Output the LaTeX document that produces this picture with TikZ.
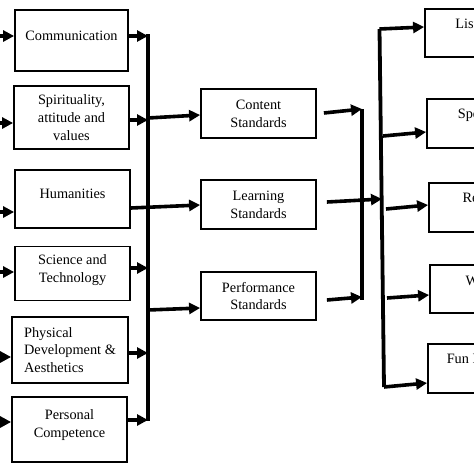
\documentclass[tikz,border=0pt]{standalone}
\usepackage{fontspec}
\setmainfont{Liberation Serif}
\usetikzlibrary{arrows.meta,calc}
\begin{document}
\begin{tikzpicture}[x=1pt,y=-1pt,
  box/.style={draw, line width=1.8pt, inner sep=2pt, align=center,
    font=\fontsize{14.3}{17.8}\selectfont},
  arr/.style={line width=3.6pt, -{Triangle[length=11pt,width=11pt]}},
  barline/.style={line width=3.8pt}]
\useasboundingbox (0,0) rectangle (474,474);
\fill[white] (0,0) rectangle (474,474);
\clip (0,0) rectangle (474,474);
% left column
\node[box, minimum width=113pt, minimum height=61pt, text depth=9.5pt] (com) at (71.5,40.5) {Communication};
\node[box, minimum width=115pt, minimum height=63pt] (spir) at (71.5,117.5) {Spirituality,\\attitude and\\values};
\node[box, minimum width=115pt, minimum height=58pt, text depth=10.5pt] (hum) at (72.5,199) {Humanities};
\node[box, minimum width=115pt, minimum height=54pt, text depth=10pt] (sci) at (72.5,273.5) {Science and\\Technology};
\node[box, align=left, minimum width=116pt, minimum height=66pt] (phys) at (70,350) {Physical\\Development \&\\Aesthetics};
\node[box, minimum width=115pt, minimum height=65pt, text depth=12pt] (pers) at (69.5,429.5) {Personal\\Competence};
% middle column
\node[box, minimum width=115pt, minimum height=49pt] (cont) at (258.5,113.5) {Content\\Standards};
\node[box, minimum width=115pt, minimum height=49pt] (lear) at (258.5,204.5) {Learning\\Standards};
\node[box, minimum width=115pt, minimum height=48pt] (perf) at (258.5,296) {Performance\\Standards};
% right column
\node[box, minimum width=115pt, minimum height=48pt, text depth=19pt] (lis) at (482.5,33) {Listening};
\node[box, minimum width=115pt, minimum height=49pt, text depth=19pt] (spk) at (484.5,123.5) {Speaking};
\node[box, minimum width=115pt, minimum height=49pt, text depth=19pt] (rea) at (486.5,207.5) {Reading};
\node[box, minimum width=115pt, minimum height=48pt, text depth=17pt] (wri) at (487.5,289) {Writing};
\node[box, minimum width=115pt, minimum height=49pt, text depth=19pt] (fun) at (485.5,368.5) {Fun Learning};
% bars
\coordinate (b1top) at (148,34);
\coordinate (b1bot) at (148,421);
\coordinate (b2top) at (362,109);
\coordinate (b2bot) at (362,300);
\coordinate (b3top) at (379.5,29);
\coordinate (b3bot) at (384,387);
\draw[barline] (b1top) -- (b1bot);
\draw[barline] (b2top) -- (b2bot);
\draw[barline] (b3top) -- (b3bot);
% incoming arrows
\coordinate (in1) at (0,36);
\coordinate (in2) at (0,123);
\coordinate (in3) at (0,212);
\coordinate (in4) at (0,272);
\coordinate (in5) at (0,357);
\coordinate (in6) at (0,422);
\draw[arr] (in1) -- (in1 -| com.west);
\draw[arr] (in2) -- (in2 -| spir.west);
\draw[arr] (in3) -- (in3 -| hum.west);
\draw[arr] (in4) -- (in4 -| sci.west);
\draw[arr] (in5) -- (in5 -| phys.west);
\draw[arr] (in6) -- (in6 -| pers.west);
% left boxes to bar 1
\draw[arr] (com.east |- 0,36) -- (b1top |- 0,36);
\draw[arr] (spir.east |- 0,120) -- (b1top |- 0,120);
\draw[arr] (sci.east |- 0,268) -- (b1top |- 0,268);
\draw[arr] (phys.east |- 0,353) -- (b1top |- 0,353);
\draw[arr] (pers.east |- 0,420) -- (b1top |- 0,420);
% bar 1 / humanities to middle
\draw[arr] (b1top |- 0,118) -- (cont.west |- 0,115);
\draw[arr] (hum.east |- 0,208) -- (lear.west |- 0,205);
\draw[arr] (b1top |- 0,310) -- (perf.west |- 0,308);
% middle to bars
\draw[arr] ($(cont.east |- 0,113)+(7,0)$) -- (b2top);
\draw[arr] ($(perf.east |- 0,300)+(10,0)$) -- (b2top |- 0,297);
\draw[arr] ($(lear.east |- 0,202)+(10,0)$) -- (382,199) coordinate (b3mid);
% bar 3 to right boxes
\draw[arr] (b3top) -- (lis.west |- 0,27);
\draw[arr] (383,136) -- (spk.west |- 0,132);
\draw[arr] (386,209) -- (rea.west |- 0,205);
\draw[arr] (387,298) -- (wri.west |- 0,295);
\draw[arr] (b3bot) -- (fun.west |- 0,383);
\end{tikzpicture}
\end{document}
